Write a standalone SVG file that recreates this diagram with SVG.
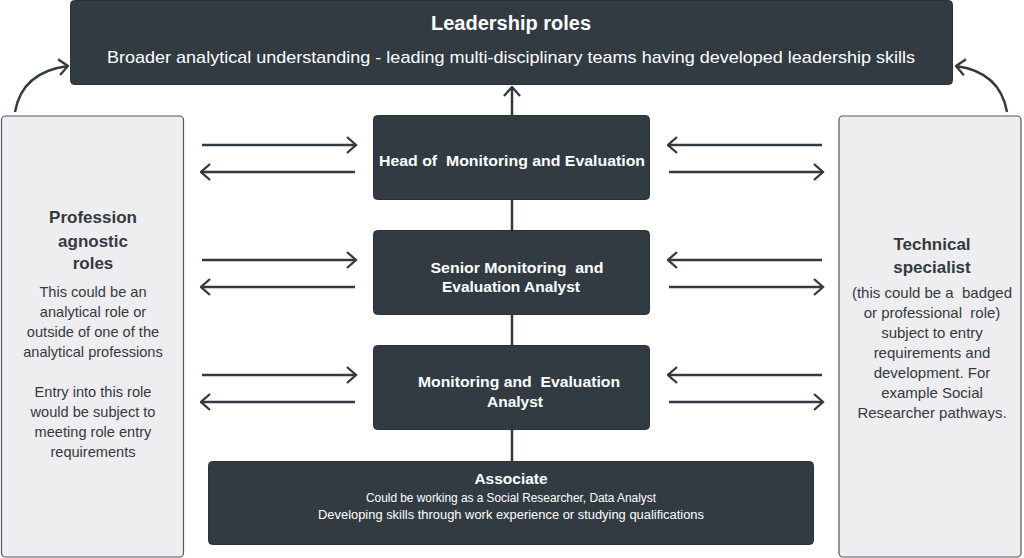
<svg xmlns="http://www.w3.org/2000/svg" width="1024" height="558" viewBox="0 0 1024 558">
<style>
.dark{fill:#323b42;stroke:#2a3238;stroke-width:1}
.light{fill:#eeeef0;stroke:#50575c;stroke-width:1.2}
.conn{fill:none;stroke:#323b42;stroke-width:2.5}
text{font-family:"Liberation Sans",Arial,sans-serif;text-anchor:middle}
.wt{fill:#ffffff}
.dt{fill:#333a3f}
.b{font-weight:bold}
</style>
<defs>
<marker id="ah" viewBox="0 0 12 18" refX="10.5" refY="9" markerWidth="12" markerHeight="18" markerUnits="userSpaceOnUse" orient="auto">
<path d="M1.5,1 L10.5,9 L1.5,17" fill="none" stroke="#323b42" stroke-width="2.3" stroke-linejoin="miter"/>
</marker>
</defs>
<rect width="1024" height="558" fill="#ffffff"/>

<g id="connectors">
<line class="conn" x1="512" y1="116" x2="512" y2="87" marker-end="url(#ah)"/>
<line class="conn" x1="512" y1="200" x2="512" y2="231"/>
<line class="conn" x1="512" y1="315" x2="512" y2="346"/>
<line class="conn" x1="512" y1="430" x2="512" y2="461"/>
<line class="conn" x1="202" y1="145" x2="356" y2="145" marker-end="url(#ah)"/>
<line class="conn" x1="355" y1="172" x2="201" y2="172" marker-end="url(#ah)"/>
<line class="conn" x1="202" y1="260" x2="356" y2="260" marker-end="url(#ah)"/>
<line class="conn" x1="355" y1="287" x2="201" y2="287" marker-end="url(#ah)"/>
<line class="conn" x1="202" y1="375" x2="356" y2="375" marker-end="url(#ah)"/>
<line class="conn" x1="355" y1="402" x2="201" y2="402" marker-end="url(#ah)"/>
<line class="conn" x1="822" y1="145" x2="668" y2="145" marker-end="url(#ah)"/>
<line class="conn" x1="669" y1="172" x2="823" y2="172" marker-end="url(#ah)"/>
<line class="conn" x1="822" y1="260" x2="668" y2="260" marker-end="url(#ah)"/>
<line class="conn" x1="669" y1="287" x2="823" y2="287" marker-end="url(#ah)"/>
<line class="conn" x1="822" y1="375" x2="668" y2="375" marker-end="url(#ah)"/>
<line class="conn" x1="669" y1="402" x2="823" y2="402" marker-end="url(#ah)"/>
<path class="conn" d="M15,112 Q22,72 68,66" marker-end="url(#ah)"/>
<path class="conn" d="M1007,112 Q1000,72 956,66" marker-end="url(#ah)"/>
</g>

<g id="leadership">
<rect class="dark" x="70.5" y="0.5" width="882" height="84" rx="4"/>
<text class="wt b" x="511" y="30" font-size="20">Leadership roles</text>
<text class="wt" x="511" y="63" font-size="17" textLength="808" lengthAdjust="spacingAndGlyphs">Broader analytical understanding - leading multi-disciplinary teams having developed leadership skills</text>
</g>

<g id="head">
<rect class="dark" x="373.5" y="115.5" width="276" height="84" rx="4"/>
<text class="wt b" x="512" y="166" font-size="15" xml:space="preserve" textLength="266" lengthAdjust="spacingAndGlyphs">Head of  Monitoring and Evaluation</text>
</g>

<g id="senior">
<rect class="dark" x="373.5" y="230.5" width="276" height="84" rx="4"/>
<text class="wt b" x="517" y="273" font-size="15" xml:space="preserve" textLength="173" lengthAdjust="spacingAndGlyphs">Senior Monitoring  and</text>
<text class="wt b" x="511" y="292" font-size="15" textLength="138" lengthAdjust="spacingAndGlyphs">Evaluation Analyst</text>
</g>

<g id="analyst">
<rect class="dark" x="373.5" y="345.5" width="276" height="84" rx="4"/>
<text class="wt b" x="519" y="387" font-size="15" xml:space="preserve" textLength="202" lengthAdjust="spacingAndGlyphs">Monitoring and  Evaluation</text>
<text class="wt b" x="515" y="407" font-size="15" textLength="56" lengthAdjust="spacingAndGlyphs">Analyst</text>
</g>

<g id="associate">
<rect class="dark" x="208.5" y="461.5" width="605" height="83" rx="4"/>
<text class="wt b" x="511" y="484" font-size="15.5">Associate</text>
<text class="wt" x="511" y="502" font-size="12.5" textLength="290" lengthAdjust="spacingAndGlyphs">Could be working as a Social Researcher, Data Analyst</text>
<text class="wt" x="511" y="519" font-size="12.5" textLength="386" lengthAdjust="spacingAndGlyphs">Developing skills through work experience or studying qualifications</text>
</g>

<g id="profession-agnostic">
<rect class="light" x="1.5" y="116" width="182" height="441" rx="4"/>
<text class="dt b" x="93" y="223" font-size="17">Profession</text>
<text class="dt b" x="93" y="247" font-size="17">agnostic</text>
<text class="dt b" x="93" y="269" font-size="17">roles</text>
<text class="dt" x="93" y="297" font-size="14.6">This could be an</text>
<text class="dt" x="93" y="317" font-size="14.6">analytical role or</text>
<text class="dt" x="93" y="337" font-size="14.6">outside of one of the</text>
<text class="dt" x="93" y="357" font-size="14.6">analytical professions</text>
<text class="dt" x="93" y="397" font-size="14.6">Entry into this role</text>
<text class="dt" x="93" y="417" font-size="14.6">would be subject to</text>
<text class="dt" x="93" y="437" font-size="14.6">meeting role entry</text>
<text class="dt" x="93" y="457" font-size="14.6">requirements</text>
</g>

<g id="technical-specialist">
<rect class="light" x="839" y="116" width="182" height="441" rx="4"/>
<text class="dt b" x="932" y="250" font-size="17">Technical</text>
<text class="dt b" x="932" y="273" font-size="17">specialist</text>
<text class="dt" x="932" y="298" font-size="15" xml:space="preserve">(this could be a  badged</text>
<text class="dt" x="932" y="318" font-size="15" xml:space="preserve">or professional  role)</text>
<text class="dt" x="932" y="338" font-size="15">subject to entry</text>
<text class="dt" x="932" y="358" font-size="15">requirements and</text>
<text class="dt" x="932" y="378" font-size="15">development. For</text>
<text class="dt" x="932" y="398" font-size="15">example Social</text>
<text class="dt" x="932" y="418" font-size="15">Researcher pathways.</text>
</g>
</svg>
